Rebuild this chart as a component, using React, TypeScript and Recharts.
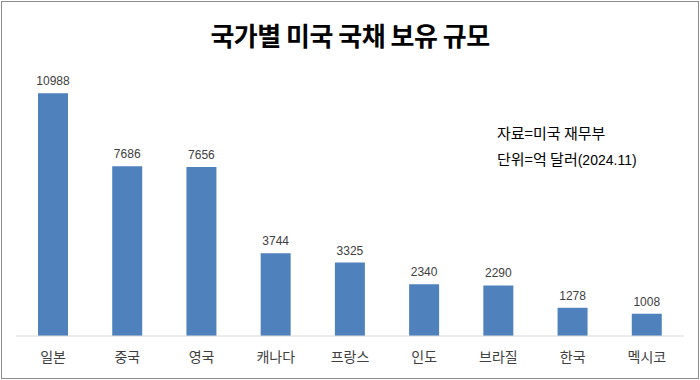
import React from "react";
import { BarChart, Bar, XAxis, YAxis, LabelList } from "recharts";

const categories = ["일본", "중국", "영국", "캐나다", "프랑스", "인도", "브라질", "한국", "멕시코"];
const holdings = [10988, 7686, 7656, 3744, 3325, 2340, 2290, 1278, 1008];

const data = categories.map((name, i) => ({ name, value: holdings[i] }));

const KR = "'Noto Sans CJK KR', 'Noto Sans', sans-serif";

export default function App() {
  return (
    <div
      style={{
        position: "fixed",
        left: 0,
        top: 0,
        width: 700,
        height: 380,
        background: "#fff",
        fontFamily: KR,
      }}
    >
      <div
        style={{
          position: "absolute",
          left: 1,
          top: 1,
          width: 698,
          height: 378,
          border: "1px solid #8c8c8c",
          boxSizing: "border-box",
        }}
      />
      <div
        style={{
          position: "absolute",
          left: 0,
          width: 700,
          top: 17,
          textAlign: "center",
          fontSize: 26,
          fontWeight: 700,
          lineHeight: "36px",
          color: "#000",
          letterSpacing: -0.5,
        }}
      >
        국가별 미국 국채 보유 규모
      </div>
      <div
        style={{
          position: "absolute",
          left: 497,
          top: 120,
          fontSize: 15,
          lineHeight: "26px",
          color: "#000",
        }}
      >
        <div>자료=미국 재무부</div>
        <div>
          단위=억 달러<span style={{ fontSize: 14, fontFamily: "'Liberation Sans', sans-serif" }}>(2024.11)</span>
        </div>
      </div>
      <div style={{ position: "absolute", left: 0, top: 0 }}>
        <BarChart
          width={700}
          height={380}
          data={data}
          margin={{ top: 71, right: 16, left: 16, bottom: 0 }}
        >
          <XAxis
            dataKey="name"
            height={44}
            tickLine={false}
            axisLine={{ stroke: "#d9d9d9", strokeWidth: 1 }}
            tick={{ fill: "#404040", fontSize: 14, fontFamily: KR }}
            tickMargin={10}
            interval={0}
          />
          <YAxis hide domain={[0, 12000]} />
          <Bar dataKey="value" fill="#4f81bd" barSize={30} isAnimationActive={false}>
            <LabelList
              dataKey="value"
              position="top"
              offset={8}
              style={{ fill: "#404040", fontSize: 12, fontFamily: "'Liberation Sans', sans-serif" }}
            />
          </Bar>
        </BarChart>
      </div>
    </div>
  );
}
